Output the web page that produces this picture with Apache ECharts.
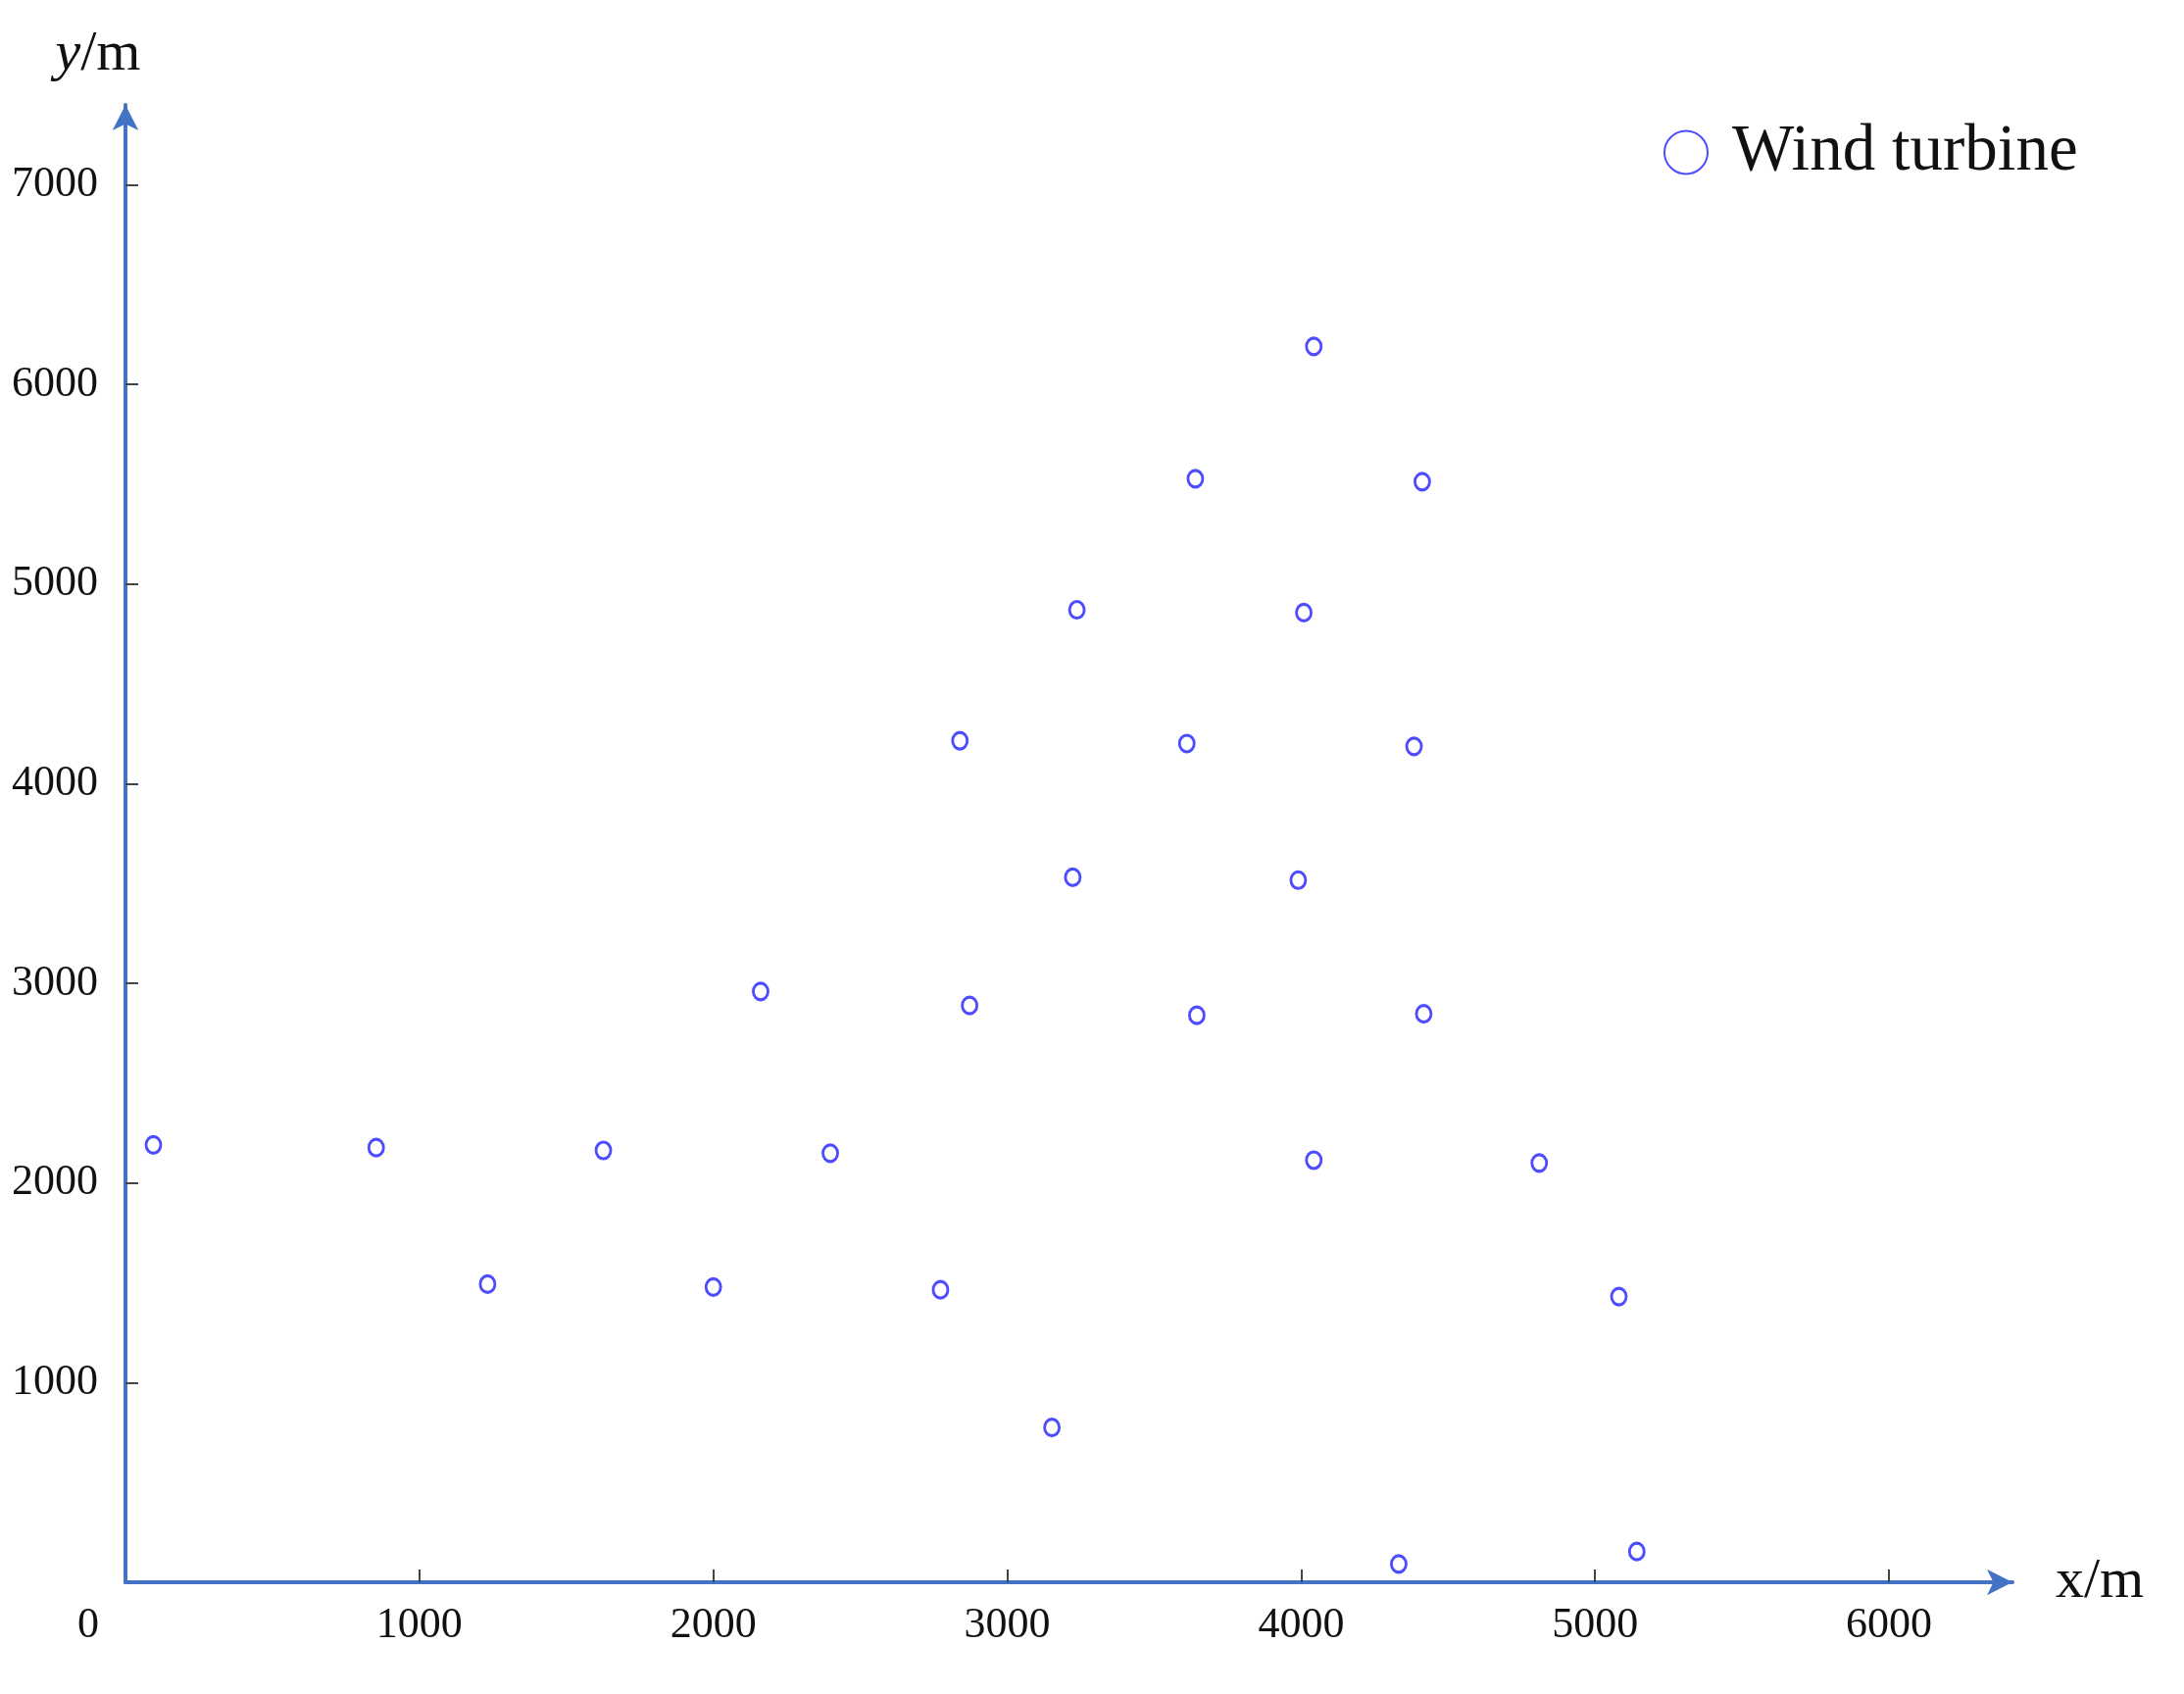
<!DOCTYPE html>
<html>
<head>
<meta charset="utf-8">
<script src="https://cdn.jsdelivr.net/npm/echarts@6/dist/echarts.min.js"></script>
<style>html,body{margin:0;padding:0;background:#fff}#c{width:2228px;height:1728px}</style>
</head>
<body>
<div id="c"></div>
<script>
// Wind turbine positions (m)
const turbineX = [95, 853, 1626, 2398, 1232, 2000, 2773, 3152, 4332, 5142, 5081, 4810, 4043,
  2161, 2872, 3645, 4417, 3223, 3990, 2839, 3611, 4384, 3237, 4009, 3640, 4412, 4043];
const turbineY = [2191, 2177, 2163, 2149, 1493, 1479, 1465, 775, 91, 154, 1431, 2100, 2114,
  2959, 2889, 2840, 2847, 3531, 3517, 4215, 4201, 4187, 4871, 4857, 5527, 5513, 6190];
const xTickValues = [0, 1000, 2000, 3000, 4000, 5000, 6000];
const yTickValues = [1000, 2000, 3000, 4000, 5000, 6000, 7000];
const seriesName = 'Wind turbine';

const serif = '"Liberation Serif","Times New Roman",serif';
const axisBlue = '#4472C4';
const pointBlue = '#4d4dff';

const chart = echarts.init(document.getElementById('c'));
chart.setOption({
  backgroundColor: '#fff',
  animation: false,
  grid: { left: 128, right: 175, top: 107, bottom: 114, outerBoundsMode: 'none', containLabel: false },
  legend: {
    left: 1692, top: 117,
    itemWidth: 44, itemHeight: 44,
    data: [{ name: seriesName, icon: 'circle' }],
    textStyle: { fontFamily: serif, fontSize: 67, color: '#111', padding: [0, 0, 0, 20] }
  },
  xAxis: {
    type: 'value', min: 0, max: 6420,
    name: 'x/m', nameLocation: 'end', nameGap: 44,
    nameTextStyle: { fontFamily: serif, fontSize: 58, color: '#111' },
    axisLine: { show: true, lineStyle: { color: axisBlue, width: 4 }, symbol: ['none', 'arrow'], symbolSize: [20, 26] },
    axisTick: { show: true, inside: true, length: 13, customValues: xTickValues.slice(1), lineStyle: { color: '#444', width: 2 } },
    axisLabel: {
      customValues: xTickValues, margin: 22,
      fontFamily: serif, fontSize: 44, color: '#111',
      formatter: function (v) { return v === 0 ? '{o|0}' : String(v); },
      rich: { o: { fontFamily: serif, fontSize: 44, color: '#111', padding: [0, 76, 0, 0] } }
    },
    splitLine: { show: false }
  },
  yAxis: {
    type: 'value', min: 0, max: 7400,
    name: '{i|y}/m', nameLocation: 'end', nameGap: 22,
    nameTextStyle: {
      fontFamily: serif, fontSize: 58, color: '#111', align: 'center', padding: [0, 56, 0, 0],
      rich: { i: { fontFamily: serif, fontSize: 58, fontStyle: 'italic', color: '#111' } }
    },
    axisLine: { show: true, lineStyle: { color: axisBlue, width: 4 }, symbol: ['none', 'arrow'], symbolSize: [20, 26] },
    axisTick: { show: true, inside: true, length: 13, customValues: yTickValues, lineStyle: { color: '#444', width: 2 } },
    axisLabel: {
      customValues: yTickValues, margin: 28, fontFamily: serif, fontSize: 44, color: '#111',
      formatter: function (v) { return String(v); }
    },
    splitLine: { show: false }
  },
  series: [{
    name: seriesName,
    type: 'scatter',
    symbol: 'circle',
    symbolSize: [15, 17],
    itemStyle: { color: '#fff', borderColor: pointBlue, borderWidth: 3, opacity: 1 },
    data: turbineX.map((x, i) => [x, turbineY[i]])
  }]
});
</script>
</body>
</html>
